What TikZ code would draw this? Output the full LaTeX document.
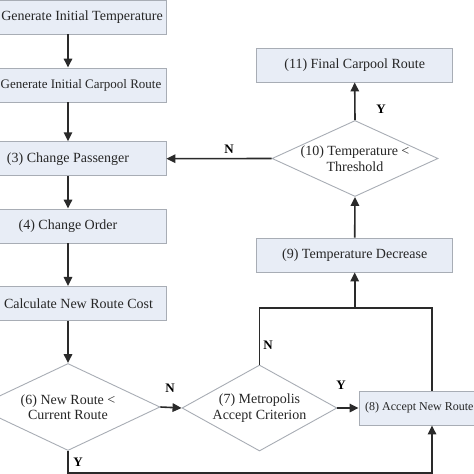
\documentclass[tikz,border=0pt]{standalone}
\usepackage{fontspec}
\setmainfont{Liberation Serif}
\usetikzlibrary{shapes.geometric,arrows.meta}
\definecolor{boxfill}{HTML}{E8EDF6}
\definecolor{boxline}{HTML}{A8ADB5}
\definecolor{flow}{HTML}{2A2A2A}
\begin{document}
\begin{tikzpicture}[x=1pt,y=-1pt,
  stepbox/.style={rectangle,draw=boxline,fill=boxfill,line width=0.9pt,minimum width=196pt,minimum height=34pt,inner sep=0pt,font=\fontsize{14}{16}\selectfont,text=black!85},
  btext/.style={inner sep=0pt,font=\fontsize{14}{16}\selectfont,text=black!85},
  decide/.style={diamond,draw=boxline,fill=white,line width=0.9pt,inner sep=0pt},
  dtext/.style={align=center,font=\fontsize{14}{15.5}\selectfont,text=black!85},
  flowline/.style={draw=flow,line width=1.6pt,-{Triangle[length=9pt,width=8.5pt]}},
  plainline/.style={draw=flow,line width=1.6pt},
  yn/.style={font=\fontsize{13}{15}\selectfont\bfseries,text=black}]
\clip (0,0) rectangle (474,474);
\useasboundingbox (0,0) rectangle (474,474);
\fill[white] (0,0) rectangle (474,474);

\node[stepbox] (b1) at (68,17) {};
\node[btext] (t1) at (82,17) {Generate Initial Temperature};
\node[stepbox] (b2) at (68,85) {};
\node[btext,font=\fontsize{13}{15}\selectfont] (t2) at (81,85) {Generate Initial Carpool Route};
\node[stepbox] (b3) at (68,158.7) {(3) Change Passenger};
\node[stepbox] (b4) at (68,226) {(4) Change Order};
\node[stepbox] (b5) at (68,303.3) {};
\node[btext] (t5) at (78.5,303.3) {Calculate New Route Cost};
\node[decide,minimum width=184pt,minimum height=87pt] (d6) at (68,407) {};
\node[dtext] (t6) at (d6.center) {(6) New Route <\\Current Route};
\node[decide,minimum width=155pt,minimum height=86pt] (d7) at (259.5,408) {};
\node[dtext] (t7) at (d7.center) {(7) Metropolis\\Accept Criterion};
\node[stepbox] (b8) at (457,408) {};
\node[btext,anchor=west,font=\fontsize{12}{14}\selectfont] (t8) at (365,408) {(8) Accept New Route};
\node[stepbox] (b9) at (354.7,255) {(9) Temperature Decrease};
\node[decide,minimum width=166pt,minimum height=76pt] (d10) at (355,158.5) {};
\node[dtext] (t10) at (d10.center) {(10) Temperature <\\Threshold};
\node[stepbox] (b11) at (354.7,65) {(11) Final Carpool Route};

\coordinate (c6) at (68,473);
\coordinate (c8b) at (432,473);
\coordinate (c7) at (259.5,308);
\coordinate (c8t) at (432,308);
\coordinate (cm) at (354.7,308);

\draw[flowline] (b1.south) -- (b2.north);
\draw[flowline] (b2.south) -- (b3.north);
\draw[flowline] (b3.south) -- (b4.north);
\draw[flowline] (b4.south) -- (b5.north);
\draw[flowline] (b5.south) -- (d6.north);
\draw[flowline] (d6.east) -- (d7.west);
\draw[flowline] (d7.east) -- (b8.west);
\draw[flowline] (d6.south) -- (c6) -- (c8b) -- (b8.south -| c8b);
\draw[plainline] (d7.north) -- (c7) -- (c8t) -- (b8.north -| c8t);
\draw[flowline] (cm) -- (b9.south);
\draw[flowline] (b9.north) -- (d10.south);
\draw[flowline] (d10.north) -- (b11.south);
\draw[flowline] (d10.west) -- (b3.east);
\node[yn] (ln6) at (170,388) {N};
\node[yn] (ly7) at (341,385) {Y};
\node[yn] (ln7) at (268,345) {N};
\node[yn] (ly6) at (78,462) {Y};
\node[yn] (ly10) at (381,109) {Y};
\node[yn] (ln10) at (229,149) {N};
\end{tikzpicture}
\end{document}
